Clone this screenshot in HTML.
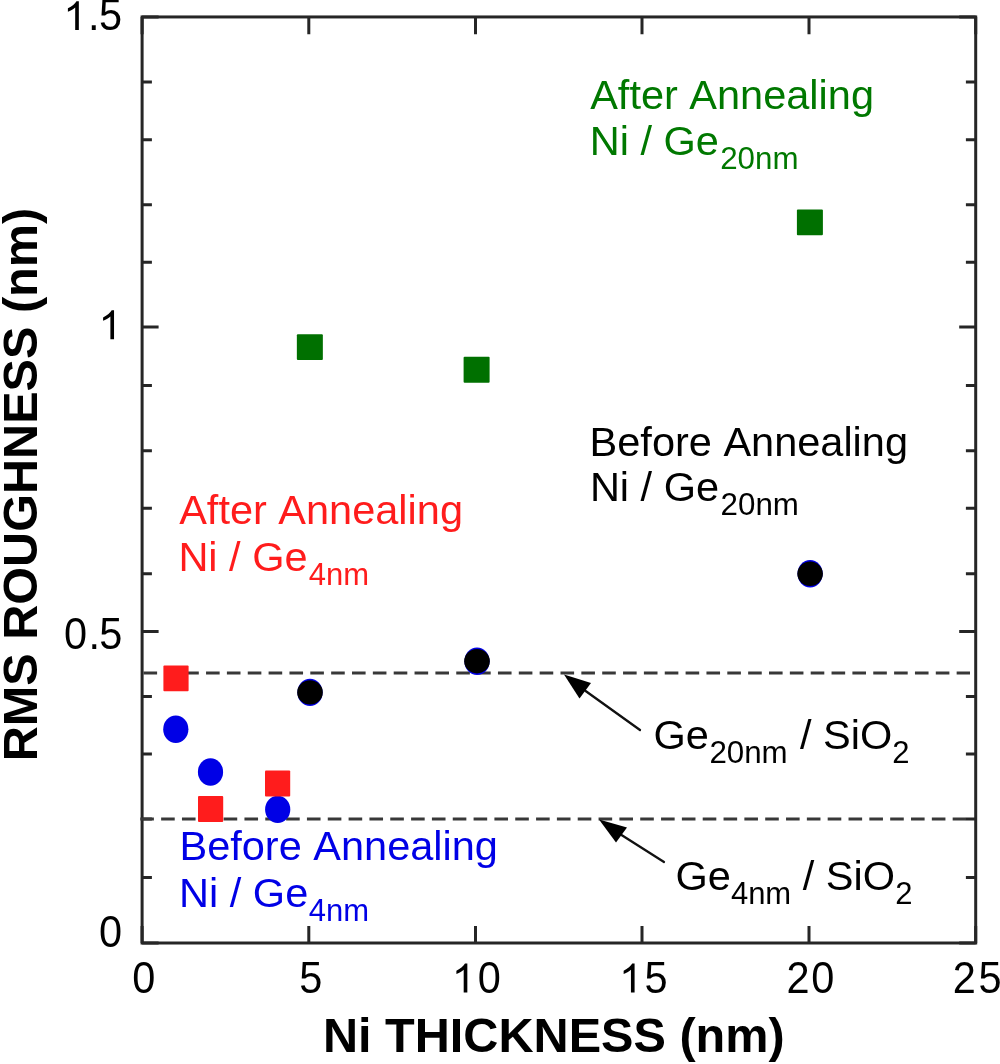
<!DOCTYPE html>
<html><head><meta charset="utf-8"><style>
html,body{margin:0;padding:0;background:#fff;}
body{width:1000px;height:1064px;overflow:hidden;}
svg{display:block;font-family:"Liberation Sans", sans-serif;font-kerning:none;will-change:transform;}
#w{width:1000px;height:1064px;}
</style></head><body><div id="w">
<svg width="1000" height="1064" viewBox="0 0 1000 1064">
<rect x="142.1" y="16.95" width="833.60" height="926.05" fill="none" stroke="#262626" stroke-width="3.0"/>
<path d="M142.1 16.95h16.5M975.7 16.95h-16.5M142.1 327.0h16.5M975.7 327.0h-16.5M142.1 631.5h16.5M975.7 631.5h-16.5M142.1 943.0h16.5M975.7 943.0h-16.5M142.1 82h9.8M975.7 82h-9.8M142.1 139.7h9.8M975.7 139.7h-9.8M142.1 204.8h9.8M975.7 204.8h-9.8M142.1 262.3h9.8M975.7 262.3h-9.8M142.1 385.5h9.8M975.7 385.5h-9.8M142.1 450.7h9.8M975.7 450.7h-9.8M142.1 508.2h9.8M975.7 508.2h-9.8M142.1 573.7h9.8M975.7 573.7h-9.8M142.1 696.5h9.8M975.7 696.5h-9.8M142.1 754h9.8M975.7 754h-9.8M142.1 819h9.8M975.7 819h-9.8M142.1 877.4h9.8M975.7 877.4h-9.8M142.1 16.95v17.3M142.1 943.0v-17M308.8 16.95v17.3M308.8 943.0v-17M475.5 16.95v17.3M475.5 943.0v-17M642.0 16.95v17.3M642.0 943.0v-17M809.0 16.95v17.3M809.0 943.0v-17M975.7 16.95v17.3M975.7 943.0v-17" stroke="#262626" stroke-width="3.0" fill="none"/>
<line x1="143.5" y1="672.9" x2="970" y2="672.9" stroke="#383838" stroke-width="3" stroke-dasharray="13.6 7.25"/>
<line x1="140.3" y1="819" x2="966" y2="819" stroke="#383838" stroke-width="3" stroke-dasharray="13.6 7.23"/>
<line x1="640" y1="730" x2="585.25" y2="690.75" stroke="#111" stroke-width="2.3" stroke-linecap="round"/>
<polygon points="564,674.5 591,683 579.5,698.5" fill="#000"/>
<line x1="664" y1="862" x2="621.50" y2="835.00" stroke="#111" stroke-width="2.3" stroke-linecap="round"/>
<polygon points="599,819.5 627,827.5 616,842.5" fill="#000"/>
<rect x="296.85" y="334.20" width="26" height="25.8" rx="1" fill="#007000"/>
<rect x="463.60" y="356.85" width="26" height="25.8" rx="1" fill="#007000"/>
<rect x="796.90" y="209.50" width="26" height="25.8" rx="1" fill="#007000"/>
<ellipse cx="175.8" cy="729.3" rx="12.6" ry="13.7" fill="#0000e6"/>
<ellipse cx="210.5" cy="772" rx="12.6" ry="13.7" fill="#0000e6"/>
<ellipse cx="277.7" cy="809.4" rx="12.6" ry="13.7" fill="#0000e6"/>
<rect x="163.40" y="665.50" width="25.2" height="25.8" rx="1" fill="#ff1c1c"/>
<rect x="198.00" y="796.10" width="25.2" height="25.8" rx="1" fill="#ff1c1c"/>
<rect x="265.00" y="770.60" width="25.2" height="25.8" rx="1" fill="#ff1c1c"/>
<ellipse cx="310" cy="692.4" rx="12.6" ry="13.7" fill="#0000e6"/>
<ellipse cx="310" cy="692.4" rx="12.8" ry="12.2" fill="#000"/>
<ellipse cx="477" cy="661.2" rx="12.6" ry="13.7" fill="#0000e6"/>
<ellipse cx="477" cy="661.2" rx="12.8" ry="12.2" fill="#000"/>
<ellipse cx="810.1" cy="573.8" rx="12.6" ry="13.7" fill="#0000e6"/>
<ellipse cx="810.1" cy="573.8" rx="12.8" ry="12.2" fill="#000"/>
<text x="590.2" y="108.5" font-size="41.5" fill="#007800" font-weight="normal" text-anchor="start" >After</text>
<text x="689.37" y="108.5" font-size="41.5" fill="#007800" font-weight="normal" text-anchor="start" >Annealing</text>
<text x="589.7" y="155.2" font-size="41.5" fill="#007800" font-weight="normal" text-anchor="start" >Ni / Ge</text>
<text x="720.2" y="168.6" font-size="31.3" fill="#007800" font-weight="normal" text-anchor="start" >20nm</text>
<text x="589.6" y="455.5" font-size="41.5" fill="#000" font-weight="normal" text-anchor="start" >Before</text>
<text x="723.4" y="455.5" font-size="41.5" fill="#000" font-weight="normal" text-anchor="start" >Annealing</text>
<text x="589.9" y="501.2" font-size="41.5" fill="#000" font-weight="normal" text-anchor="start" >Ni / Ge</text>
<text x="720.6" y="515.2" font-size="31.3" fill="#000" font-weight="normal" text-anchor="start" >20nm</text>
<text x="179.2" y="523.6" font-size="41.5" fill="#ff1c1c" font-weight="normal" text-anchor="start" >After</text>
<text x="278.37" y="523.6" font-size="41.5" fill="#ff1c1c" font-weight="normal" text-anchor="start" >Annealing</text>
<text x="178.4" y="571.0" font-size="41.5" fill="#ff1c1c" font-weight="normal" text-anchor="start" >Ni / Ge</text>
<text x="308.8" y="584.8" font-size="31" fill="#ff1c1c" font-weight="normal" text-anchor="start" >4nm</text>
<text x="179.5" y="860.2" font-size="41.5" fill="#0000e6" font-weight="normal" text-anchor="start" >Before</text>
<text x="313.3" y="860.2" font-size="41.5" fill="#0000e6" font-weight="normal" text-anchor="start" >Annealing</text>
<text x="179.1" y="907.3" font-size="41.5" fill="#0000e6" font-weight="normal" text-anchor="start" >Ni / Ge</text>
<text x="308.8" y="921.4" font-size="31" fill="#0000e6" font-weight="normal" text-anchor="start" >4nm</text>
<text x="653.4" y="749.2" font-size="41.5" fill="#000" font-weight="normal" text-anchor="start" >Ge</text>
<text x="709.4" y="763.2" font-size="31.3" fill="#000" font-weight="normal" text-anchor="start" >20nm</text>
<text x="788.5" y="749.0" font-size="41.5" fill="#000" font-weight="normal" text-anchor="start" xml:space="preserve"> / SiO</text>
<text x="892.2" y="763.2" font-size="31" fill="#000" font-weight="normal" text-anchor="start" >2</text>
<text x="675.5" y="890" font-size="41.5" fill="#000" font-weight="normal" text-anchor="start" >Ge</text>
<text x="730.9" y="904" font-size="31" fill="#000" font-weight="normal" text-anchor="start" >4nm</text>
<text x="791.2" y="890" font-size="41.5" fill="#000" font-weight="normal" text-anchor="start" xml:space="preserve"> / SiO</text>
<text x="895.3" y="904" font-size="31" fill="#000" font-weight="normal" text-anchor="start" >2</text>
<path d="M763 0L583 0L583 1147C540 1106 483 1064 412 1023C341 982 277 951 223 930L223 1104C324 1151 412 1208 487 1276C562 1344 616 1409 647 1466L763 1466Z" transform="translate(63.38,30.1) scale(0.02026,-0.01976)" fill="#000"/>
<text transform="translate(88.11,30.1) scale(1,1.06)" font-size="41.5" fill="#000">.</text>
<text transform="translate(99.04,30.1) scale(1,1.06)" font-size="41.5" fill="#000">5</text>
<path d="M763 0L583 0L583 1147C540 1106 483 1064 412 1023C341 982 277 951 223 930L223 1104C324 1151 412 1208 487 1276C562 1344 616 1409 647 1466L763 1466Z" transform="translate(98.58,339.2) scale(0.02026,-0.01976)" fill="#000"/>
<text transform="translate(64.03,648.9) scale(1,1.06)" font-size="41.5" fill="#000">0</text>
<text transform="translate(88.51,648.9) scale(1,1.06)" font-size="41.5" fill="#000">.</text>
<text transform="translate(99.14,648.9) scale(1,1.06)" font-size="41.5" fill="#000">5</text>
<text transform="translate(98.88,946.8) scale(1,1.06)" font-size="41.5" fill="#000">0</text>
<text transform="translate(132.28,992.5) scale(1,1.06)" font-size="41.5" fill="#000">0</text>
<text transform="translate(299.14,992.5) scale(1,1.06)" font-size="41.5" fill="#000">5</text>
<path d="M763 0L583 0L583 1147C540 1106 483 1064 412 1023C341 982 277 951 223 930L223 1104C324 1151 412 1208 487 1276C562 1344 616 1409 647 1466L763 1466Z" transform="translate(451.88,992.5) scale(0.02026,-0.01976)" fill="#000"/>
<text transform="translate(477.68,992.5) scale(1,1.06)" font-size="41.5" fill="#000">0</text>
<path d="M763 0L583 0L583 1147C540 1106 483 1064 412 1023C341 982 277 951 223 930L223 1104C324 1151 412 1208 487 1276C562 1344 616 1409 647 1466L763 1466Z" transform="translate(619.13,992.5) scale(0.02026,-0.01976)" fill="#000"/>
<text transform="translate(644.54,992.5) scale(1,1.06)" font-size="41.5" fill="#000">5</text>
<text transform="translate(786.41,992.5) scale(1,1.06)" font-size="41.5" fill="#000">2</text>
<text transform="translate(811.18,992.5) scale(1,1.06)" font-size="41.5" fill="#000">0</text>
<text transform="translate(952.66,992.5) scale(1,1.06)" font-size="41.5" fill="#000">2</text>
<text transform="translate(978.39,992.5) scale(1,1.06)" font-size="41.5" fill="#000">5</text>
<text x="323.0" y="1051.7" font-size="48.6" fill="#000" font-weight="bold" text-anchor="start" >Ni THICKNESS (nm)</text>
<text transform="translate(36.6,761.25) rotate(-90)" font-size="48.6" font-weight="bold" fill="#000">RMS ROUGHNESS (nm)</text>
</svg></div>
</body></html>
